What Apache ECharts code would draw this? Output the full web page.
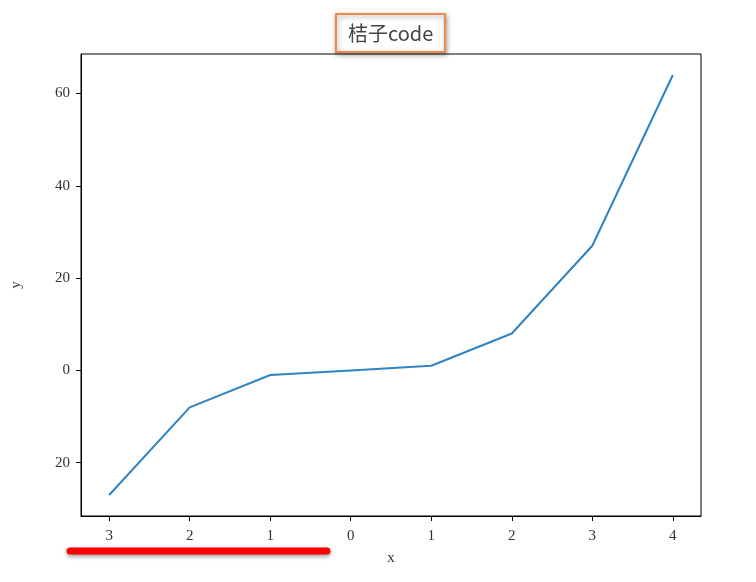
<!DOCTYPE html>
<html>
<head>
<meta charset="utf-8">
<script src="https://cdn.jsdelivr.net/npm/echarts@6/dist/echarts.min.js"></script>
<style>html,body{margin:0;padding:0;background:#fff}#c{width:756px;height:582px}</style>
</head>
<body>
<div id="c"></div>
<script>
const xValues = [-3, -2, -1, 0, 1, 2, 3, 4];
const yValues = [-27, -8, -1, 0, 1, 8, 27, 64];
const xTickValues = [-3, -2, -1, 0, 1, 2, 3, 4];
const xTickLabels = ['3', '2', '1', '0', '1', '2', '3', '4'];
const yTickValues = [-20, 0, 20, 40, 60];
const yTickLabels = ['20', '0', '20', '40', '60'];
const titleText = '桔子code';

const chart = echarts.init(document.getElementById('c'));
const tickFont = { fontFamily: 'Liberation Serif', fontSize: 15, color: '#333' };
chart.setOption({
  animation: false,
  backgroundColor: '#fff',
  title: {
    text: titleText,
    left: 336, top: 14,
    padding: [9, 12, 9, 12],
    borderColor: '#F0884A', borderWidth: 2,
    shadowBlur: 5, shadowColor: 'rgba(0,0,0,0.35)', shadowOffsetX: 1, shadowOffsetY: 2,
    backgroundColor: '#fff',
    textStyle: { fontFamily: 'Noto Sans CJK SC', fontSize: 20, fontWeight: 'normal', color: '#444' }
  },
  grid: { left: 81, top: 54, width: 620, height: 462, show: true, borderColor: '#000', borderWidth: 1,
    outerBoundsMode: 'none', containLabel: false },
  xAxis: {
    type: 'value', min: -3.35, max: 4.35,
    name: 'x', nameLocation: 'middle', nameGap: 35,
    nameTextStyle: { fontFamily: 'Liberation Serif', fontSize: 15, color: '#333' },
    axisLine: { show: true, onZero: false, lineStyle: { color: '#000' } },
    axisTick: { show: true, length: 5, customValues: xTickValues, lineStyle: { color: '#000' } },
    axisLabel: Object.assign({ customValues: xTickValues, margin: 13,
      formatter: v => xTickLabels[xTickValues.indexOf(v)] }, tickFont),
    splitLine: { show: false }
  },
  yAxis: {
    type: 'value', min: -31.55, max: 68.55,
    name: 'y', nameLocation: 'middle', nameGap: 57, nameRotate: 90,
    nameTextStyle: { fontFamily: 'Liberation Serif', fontSize: 15, color: '#333' },
    axisLine: { show: true, onZero: false, lineStyle: { color: '#000' } },
    axisTick: { show: true, length: 5, customValues: yTickValues, lineStyle: { color: '#000' } },
    axisLabel: Object.assign({ customValues: yTickValues, margin: 11,
      formatter: v => yTickLabels[yTickValues.indexOf(v)] }, tickFont),
    splitLine: { show: false }
  },
  series: [{
    type: 'line',
    data: xValues.map((x, i) => [x, yValues[i]]),
    showSymbol: false,
    lineStyle: { color: '#2f83c3', width: 2 }
  }],
  graphic: [{
    type: 'line',
    shape: { x1: 70, y1: 551, x2: 327, y2: 551 },
    style: { stroke: '#f00', lineWidth: 7, lineCap: 'round',
      shadowBlur: 4, shadowColor: 'rgba(0,0,0,0.4)', shadowOffsetY: 2 }
  }]
});
</script>
</body>
</html>
